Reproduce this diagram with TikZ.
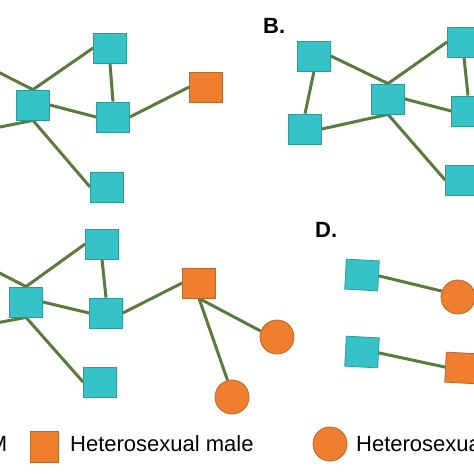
\documentclass[tikz,border=0pt]{standalone}
\usepackage{fontspec}
\setmainfont{Liberation Sans}
\pgfdeclarelayer{bg}
\pgfsetlayers{bg,main}
\definecolor{tealf}{HTML}{35C3C8}
\definecolor{tealb}{HTML}{2A9A9C}
\definecolor{orf}{HTML}{EF7E2E}
\definecolor{orb}{HTML}{B8672C}
\definecolor{edgec}{HTML}{5A7B3D}
\begin{document}
\begin{tikzpicture}[x=1pt,y=-1pt,
  msm/.style={draw=tealb, fill=tealf, line width=0.8pt, minimum width=33pt, minimum height=30pt, inner sep=0pt},
  hm/.style={msm, draw=orb, fill=orf},
  hf/.style={circle, draw=orb, fill=orf, line width=0.8pt, minimum size=34pt, inner sep=0pt},
  link/.style={draw=edgec, line width=3pt},
  lab/.style={font=\fontsize{22}{26}\selectfont\bfseries, inner sep=0pt, anchor=base west},
  leg/.style={font=\fontsize{22}{26}\selectfont, inner sep=0pt, anchor=base west}]
\useasboundingbox (0,0) rectangle (474,474);

% Panel A
\node[msm] (a1) at (110,48) {};
\node[msm] (a2) at (33,105) {};
\node[msm] (a3) at (113,117) {};
\node[hm]  (a4) at (206,87) {};
\node[msm] (a5) at (107,187) {};
\coordinate (ao1) at (-20,63);
\coordinate (ao2) at (-20,131);

% Panel B
\node[lab] (lb) at (263,33) {B.};
\node[msm] (b1) at (314,56) {};
\node[msm] (b2) at (305,129) {};
\node[msm] (b3) at (388,99) {};
\node[msm] (b4) at (464,42) {};
\node[msm] (b5) at (468,111) {};
\node[msm] (b6) at (462,180) {};

% Panel C
\node[msm] (c1) at (102,244) {};
\node[msm] (c2) at (26,302) {};
\node[msm] (c3) at (106,313) {};
\node[hm]  (c4) at (199,283) {};
\node[msm] (c5) at (100,382) {};
\node[hf]  (c6) at (277,337) {};
\node[hf]  (c7) at (232,397) {};
\coordinate (co1) at (-20,263);
\coordinate (co2) at (-20,326);

% Panel D
\node[lab] (ld) at (315,237) {D.};
\node[msm, rotate=-3] (d1) at (362,275) {};
\node[hf] (d2) at (458,297) {};
\node[msm, rotate=-3] (d3) at (362,352) {};
\node[hm, rotate=-3] (d4) at (462,368) {};

% Legend
\node[leg, anchor=base east] (l0) at (7.5,451) {MSM};
\node[hm, minimum width=28pt, minimum height=31pt] (l1) at (44,447) {};
\node[leg] (l1t) at (70,451) {Heterosexual male};
\node[hf] (l2) at (330,444) {};
\node[leg] (l2t) at (356,451) {Heterosexual female};

\begin{pgfonlayer}{bg}
  % A
  \draw[link] (ao1) -- (a2.north);
  \draw[link] (ao2) -- (a2.south);
  \draw[link] (a2.north) -- (a1.west);
  \draw[link] (a2.east) -- (a3.west);
  \draw[link] (a1.south) -- (a3.north);
  \draw[link] (a3.east) -- (a4.west);
  \draw[link] (a2.south) -- (a5.west);
  % B
  \draw[link] (b1.east) -- (b3.north);
  \draw[link] (b3.north) -- (b4.west);
  \draw[link] (b1.south) -- (b2.north);
  \draw[link] (b2.east) -- (b3.south);
  \draw[link] (b3.east) -- (b5.west);
  \draw[link] (b3.south) -- (b6.west);
  \draw[link] (b4.south) -- (b5.north);
  % C
  \draw[link] (co1) -- (c2.north);
  \draw[link] (co2) -- (c2.south);
  \draw[link] (c2.north) -- (c1.west);
  \draw[link] (c2.east) -- (c3.west);
  \draw[link] (c1.south) -- (c3.north);
  \draw[link] (c3.east) -- (c4.west);
  \draw[link] (c2.south) -- (c5.west);
  \draw[link] (c4.south) -- (c6.160);
  \draw[link] (c4.south) -- (c7.105);
  % D
  \draw[link] (d1.east) -- (d2.160);
  \draw[link] (d3.east) -- (d4.west);
\end{pgfonlayer}
\end{tikzpicture}
\end{document}
